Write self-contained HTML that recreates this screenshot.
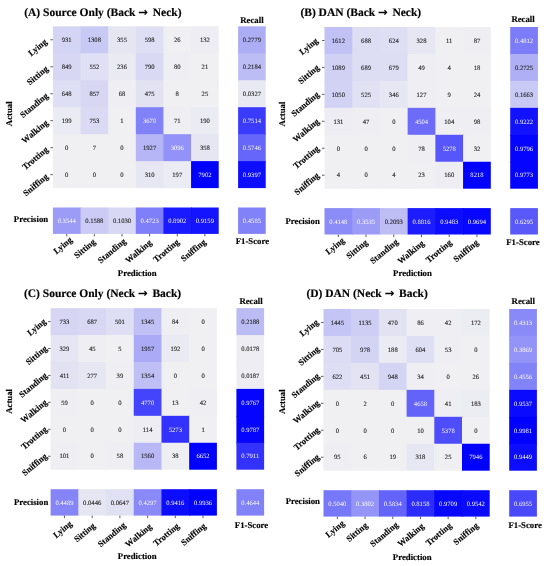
<!DOCTYPE html>
<html><head><meta charset="utf-8"><style>
html,body{margin:0;padding:0;background:#fff;}
svg{display:block;}

text{font-family:"Liberation Serif","Times New Roman",serif;text-rendering:geometricPrecision;}
.t{font-size:11.5px;font-weight:bold;fill:#000;stroke:#000;stroke-width:0.15px;}
.ar{font-family:"DejaVu Sans",sans-serif;}
.lb{font-size:8.75px;font-weight:bold;fill:#000;stroke:#000;stroke-width:0.15px;}
.n{font-size:6.6px;text-anchor:middle;dominant-baseline:central;stroke-width:0.12px;}
.yl{font-size:8.75px;font-weight:bold;stroke:#000;stroke-width:0.15px;text-anchor:end;dominant-baseline:central;fill:#000;}
.xl{font-size:8.75px;font-weight:bold;stroke:#000;stroke-width:0.15px;text-anchor:end;dominant-baseline:text-before-edge;fill:#000;}
.tk{stroke:#333;stroke-width:0.8;}
</style></head><body>
<svg width="550" height="566" viewBox="0 0 550 566">
<rect width="550" height="566" fill="#fff"/>
<text class="t" x="24.2" y="16.0">(A) Source Only (Back <tspan class="ar">→</tspan><tspan dx="1.86"> Neck)</tspan></text>
<rect x="52.90" y="26.30" width="28.63" height="27.97" fill="#d4d4f4"/>
<rect x="80.53" y="26.30" width="28.63" height="27.97" fill="#c9c9f5"/>
<rect x="108.17" y="26.30" width="28.63" height="27.97" fill="#e6e6f3"/>
<rect x="135.80" y="26.30" width="28.63" height="27.97" fill="#dedff4"/>
<rect x="163.43" y="26.30" width="28.63" height="27.97" fill="#f0f0f3"/>
<rect x="191.07" y="26.30" width="27.63" height="27.97" fill="#ededf3"/>
<rect x="52.90" y="53.27" width="28.63" height="27.97" fill="#d7d7f4"/>
<rect x="80.53" y="53.27" width="28.63" height="27.97" fill="#e0e0f4"/>
<rect x="108.17" y="53.27" width="28.63" height="27.97" fill="#eaeaf3"/>
<rect x="135.80" y="53.27" width="28.63" height="27.97" fill="#d9d9f4"/>
<rect x="163.43" y="53.27" width="28.63" height="27.97" fill="#efeff3"/>
<rect x="191.07" y="53.27" width="27.63" height="27.97" fill="#f0f0f3"/>
<rect x="52.90" y="80.23" width="28.63" height="27.97" fill="#dedef4"/>
<rect x="80.53" y="80.23" width="28.63" height="27.97" fill="#d7d7f4"/>
<rect x="108.17" y="80.23" width="28.63" height="27.97" fill="#efeff3"/>
<rect x="135.80" y="80.23" width="28.63" height="27.97" fill="#e2e2f3"/>
<rect x="163.43" y="80.23" width="28.63" height="27.97" fill="#f0f0f3"/>
<rect x="191.07" y="80.23" width="27.63" height="27.97" fill="#f0f0f3"/>
<rect x="52.90" y="107.20" width="28.63" height="27.97" fill="#ebebf3"/>
<rect x="80.53" y="107.20" width="28.63" height="27.97" fill="#dadaf4"/>
<rect x="108.17" y="107.20" width="28.63" height="27.97" fill="#f0f0f3"/>
<rect x="135.80" y="107.20" width="28.63" height="27.97" fill="#8181f8"/>
<rect x="163.43" y="107.20" width="28.63" height="27.97" fill="#efeff3"/>
<rect x="191.07" y="107.20" width="27.63" height="27.97" fill="#ebebf3"/>
<rect x="52.90" y="134.17" width="28.63" height="27.97" fill="#f0f0f3"/>
<rect x="80.53" y="134.17" width="28.63" height="27.97" fill="#f0f0f3"/>
<rect x="108.17" y="134.17" width="28.63" height="27.97" fill="#f0f0f3"/>
<rect x="135.80" y="134.17" width="28.63" height="27.97" fill="#b6b6f6"/>
<rect x="163.43" y="134.17" width="28.63" height="27.97" fill="#9292f8"/>
<rect x="191.07" y="134.17" width="27.63" height="27.97" fill="#e6e6f3"/>
<rect x="52.90" y="161.13" width="28.63" height="26.97" fill="#f0f0f3"/>
<rect x="80.53" y="161.13" width="28.63" height="26.97" fill="#f0f0f3"/>
<rect x="108.17" y="161.13" width="28.63" height="26.97" fill="#f0f0f3"/>
<rect x="135.80" y="161.13" width="28.63" height="26.97" fill="#e7e7f3"/>
<rect x="163.43" y="161.13" width="28.63" height="26.97" fill="#ebebf3"/>
<rect x="191.07" y="161.13" width="27.63" height="26.97" fill="#0000ff"/>
<text class="n" x="66.72" y="40.53" fill="#262626" stroke="#262626">931</text>
<text class="n" x="94.35" y="40.53" fill="#262626" stroke="#262626">1308</text>
<text class="n" x="121.98" y="40.53" fill="#262626" stroke="#262626">355</text>
<text class="n" x="149.62" y="40.53" fill="#262626" stroke="#262626">598</text>
<text class="n" x="177.25" y="40.53" fill="#262626" stroke="#262626">26</text>
<text class="n" x="204.88" y="40.53" fill="#262626" stroke="#262626">132</text>
<text class="n" x="66.72" y="67.50" fill="#262626" stroke="#262626">849</text>
<text class="n" x="94.35" y="67.50" fill="#262626" stroke="#262626">552</text>
<text class="n" x="121.98" y="67.50" fill="#262626" stroke="#262626">236</text>
<text class="n" x="149.62" y="67.50" fill="#262626" stroke="#262626">790</text>
<text class="n" x="177.25" y="67.50" fill="#262626" stroke="#262626">80</text>
<text class="n" x="204.88" y="67.50" fill="#262626" stroke="#262626">21</text>
<text class="n" x="66.72" y="94.47" fill="#262626" stroke="#262626">648</text>
<text class="n" x="94.35" y="94.47" fill="#262626" stroke="#262626">857</text>
<text class="n" x="121.98" y="94.47" fill="#262626" stroke="#262626">68</text>
<text class="n" x="149.62" y="94.47" fill="#262626" stroke="#262626">475</text>
<text class="n" x="177.25" y="94.47" fill="#262626" stroke="#262626">8</text>
<text class="n" x="204.88" y="94.47" fill="#262626" stroke="#262626">25</text>
<text class="n" x="66.72" y="121.43" fill="#262626" stroke="#262626">199</text>
<text class="n" x="94.35" y="121.43" fill="#262626" stroke="#262626">753</text>
<text class="n" x="121.98" y="121.43" fill="#262626" stroke="#262626">1</text>
<text class="n" x="149.62" y="121.43" fill="#ffffff" stroke="none">3670</text>
<text class="n" x="177.25" y="121.43" fill="#262626" stroke="#262626">71</text>
<text class="n" x="204.88" y="121.43" fill="#262626" stroke="#262626">190</text>
<text class="n" x="66.72" y="148.40" fill="#262626" stroke="#262626">0</text>
<text class="n" x="94.35" y="148.40" fill="#262626" stroke="#262626">7</text>
<text class="n" x="121.98" y="148.40" fill="#262626" stroke="#262626">0</text>
<text class="n" x="149.62" y="148.40" fill="#262626" stroke="#262626">1927</text>
<text class="n" x="177.25" y="148.40" fill="#ffffff" stroke="none">3096</text>
<text class="n" x="204.88" y="148.40" fill="#262626" stroke="#262626">358</text>
<text class="n" x="66.72" y="175.37" fill="#262626" stroke="#262626">0</text>
<text class="n" x="94.35" y="175.37" fill="#262626" stroke="#262626">0</text>
<text class="n" x="121.98" y="175.37" fill="#262626" stroke="#262626">0</text>
<text class="n" x="149.62" y="175.37" fill="#262626" stroke="#262626">310</text>
<text class="n" x="177.25" y="175.37" fill="#262626" stroke="#262626">197</text>
<text class="n" x="204.88" y="175.37" fill="#ffffff" stroke="none">7902</text>
<rect x="238.10" y="26.30" width="27.63" height="27.97" fill="#adadf6"/>
<rect x="238.10" y="53.27" width="27.63" height="27.97" fill="#bdbdf5"/>
<rect x="238.10" y="80.23" width="27.63" height="27.97" fill="#e9e9f3"/>
<rect x="238.10" y="107.20" width="27.63" height="27.97" fill="#3b3bfc"/>
<rect x="238.10" y="134.17" width="27.63" height="27.97" fill="#6666fa"/>
<rect x="238.10" y="161.13" width="27.63" height="26.97" fill="#0e0efe"/>
<text class="n" x="251.92" y="40.53" fill="#262626" stroke="#262626">0.2779</text>
<text class="n" x="251.92" y="67.50" fill="#262626" stroke="#262626">0.2184</text>
<text class="n" x="251.92" y="94.47" fill="#262626" stroke="#262626">0.0327</text>
<text class="n" x="251.92" y="121.43" fill="#ffffff" stroke="none">0.7514</text>
<text class="n" x="251.92" y="148.40" fill="#ffffff" stroke="none">0.5746</text>
<text class="n" x="251.92" y="175.37" fill="#ffffff" stroke="none">0.9397</text>
<rect x="52.90" y="207.50" width="28.63" height="26.40" fill="#9c9cf7"/>
<rect x="80.53" y="207.50" width="28.63" height="26.40" fill="#cbcbf5"/>
<rect x="108.17" y="207.50" width="28.63" height="26.40" fill="#d8d8f4"/>
<rect x="135.80" y="207.50" width="28.63" height="26.40" fill="#7f7ff9"/>
<rect x="163.43" y="207.50" width="28.63" height="26.40" fill="#1a1afe"/>
<rect x="191.07" y="207.50" width="27.63" height="26.40" fill="#1414fe"/>
<text class="n" x="66.72" y="221.45" fill="#ffffff" stroke="none">0.3544</text>
<text class="n" x="94.35" y="221.45" fill="#262626" stroke="#262626">0.1588</text>
<text class="n" x="121.98" y="221.45" fill="#262626" stroke="#262626">0.1030</text>
<text class="n" x="149.62" y="221.45" fill="#ffffff" stroke="none">0.4723</text>
<text class="n" x="177.25" y="221.45" fill="#ffffff" stroke="none">0.8902</text>
<text class="n" x="204.88" y="221.45" fill="#ffffff" stroke="none">0.9159</text>
<rect x="238.10" y="207.50" width="27.63" height="26.40" fill="#8282f8"/>
<text class="n" x="251.92" y="221.45" fill="#ffffff" stroke="none">0.4585</text>
<line x1="50.40" y1="39.78" x2="52.90" y2="39.78" class="tk"/>
<text class="yl" x="45.70" y="40.38" transform="rotate(-40 45.70 40.38)">Lying</text>
<line x1="50.40" y1="66.75" x2="52.90" y2="66.75" class="tk"/>
<text class="yl" x="46.90" y="67.35" transform="rotate(-40 46.90 67.35)">Sitting</text>
<line x1="50.40" y1="93.72" x2="52.90" y2="93.72" class="tk"/>
<text class="yl" x="46.90" y="94.32" transform="rotate(-40 46.90 94.32)">Standing</text>
<line x1="50.40" y1="120.68" x2="52.90" y2="120.68" class="tk"/>
<text class="yl" x="46.90" y="121.28" transform="rotate(-40 46.90 121.28)">Walking</text>
<line x1="50.40" y1="147.65" x2="52.90" y2="147.65" class="tk"/>
<text class="yl" x="46.90" y="148.25" transform="rotate(-40 46.90 148.25)">Trotting</text>
<line x1="50.40" y1="174.62" x2="52.90" y2="174.62" class="tk"/>
<text class="yl" x="46.90" y="175.22" transform="rotate(-40 46.90 175.22)">Sniffing</text>
<line x1="66.72" y1="233.90" x2="66.72" y2="236.40" class="tk"/>
<text class="xl" x="67.72" y="234.60" transform="rotate(-40 67.72 234.60)">Lying</text>
<line x1="94.35" y1="233.90" x2="94.35" y2="236.40" class="tk"/>
<text class="xl" x="90.95" y="236.60" transform="rotate(-40 90.95 236.60)">Sitting</text>
<line x1="121.98" y1="233.90" x2="121.98" y2="236.40" class="tk"/>
<text class="xl" x="121.38" y="236.00" transform="rotate(-40 121.38 236.00)">Standing</text>
<line x1="149.62" y1="233.90" x2="149.62" y2="236.40" class="tk"/>
<text class="xl" x="147.22" y="237.40" transform="rotate(-40 147.22 237.40)">Walking</text>
<line x1="177.25" y1="233.90" x2="177.25" y2="236.40" class="tk"/>
<text class="xl" x="174.75" y="236.80" transform="rotate(-40 174.75 236.80)">Trotting</text>
<line x1="204.88" y1="233.90" x2="204.88" y2="236.40" class="tk"/>
<text class="xl" x="201.38" y="236.80" transform="rotate(-40 201.38 236.80)">Sniffing</text>
<text class="lb" x="251.92" y="23.00" text-anchor="middle">Recall</text>
<text class="lb" x="48.20" y="222.00" text-anchor="end">Precision</text>
<text class="lb" x="252.42" y="244.30" text-anchor="middle">F1-Score</text>
<text class="lb" x="137.20" y="276.10" text-anchor="middle">Prediction</text>
<text class="lb" x="12.30" y="113.80" text-anchor="middle" transform="rotate(-90 12.30 113.80)">Actual</text>
<text class="t" x="300.4" y="16.4">(B) DAN (Back <tspan class="ar">→</tspan><tspan dx="1.86"> Neck)</tspan></text>
<rect x="324.50" y="27.00" width="28.72" height="27.95" fill="#c1c1f5"/>
<rect x="352.22" y="27.00" width="28.72" height="27.95" fill="#ddddf4"/>
<rect x="379.93" y="27.00" width="28.72" height="27.95" fill="#dedff4"/>
<rect x="407.65" y="27.00" width="28.72" height="27.95" fill="#e7e7f3"/>
<rect x="435.37" y="27.00" width="28.72" height="27.95" fill="#f0f0f3"/>
<rect x="463.08" y="27.00" width="27.72" height="27.95" fill="#efeff3"/>
<rect x="324.50" y="53.95" width="28.72" height="27.95" fill="#d1d1f4"/>
<rect x="352.22" y="53.95" width="28.72" height="27.95" fill="#ddddf4"/>
<rect x="379.93" y="53.95" width="28.72" height="27.95" fill="#ddddf4"/>
<rect x="407.65" y="53.95" width="28.72" height="27.95" fill="#efeff3"/>
<rect x="435.37" y="53.95" width="28.72" height="27.95" fill="#f0f0f3"/>
<rect x="463.08" y="53.95" width="27.72" height="27.95" fill="#f0f0f3"/>
<rect x="324.50" y="80.90" width="28.72" height="27.95" fill="#d2d2f4"/>
<rect x="352.22" y="80.90" width="28.72" height="27.95" fill="#e1e1f4"/>
<rect x="379.93" y="80.90" width="28.72" height="27.95" fill="#e7e7f3"/>
<rect x="407.65" y="80.90" width="28.72" height="27.95" fill="#eeeef3"/>
<rect x="435.37" y="80.90" width="28.72" height="27.95" fill="#f0f0f3"/>
<rect x="463.08" y="80.90" width="27.72" height="27.95" fill="#f0f0f3"/>
<rect x="324.50" y="107.85" width="28.72" height="27.95" fill="#ededf3"/>
<rect x="352.22" y="107.85" width="28.72" height="27.95" fill="#efeff3"/>
<rect x="379.93" y="107.85" width="28.72" height="27.95" fill="#f0f0f3"/>
<rect x="407.65" y="107.85" width="28.72" height="27.95" fill="#6c6cf9"/>
<rect x="435.37" y="107.85" width="28.72" height="27.95" fill="#eeeef3"/>
<rect x="463.08" y="107.85" width="27.72" height="27.95" fill="#eeeef3"/>
<rect x="324.50" y="134.80" width="28.72" height="27.95" fill="#f0f0f3"/>
<rect x="352.22" y="134.80" width="28.72" height="27.95" fill="#f0f0f3"/>
<rect x="379.93" y="134.80" width="28.72" height="27.95" fill="#f0f0f3"/>
<rect x="407.65" y="134.80" width="28.72" height="27.95" fill="#efeff3"/>
<rect x="435.37" y="134.80" width="28.72" height="27.95" fill="#5656fb"/>
<rect x="463.08" y="134.80" width="27.72" height="27.95" fill="#f0f0f3"/>
<rect x="324.50" y="161.75" width="28.72" height="26.95" fill="#f0f0f3"/>
<rect x="352.22" y="161.75" width="28.72" height="26.95" fill="#f0f0f3"/>
<rect x="379.93" y="161.75" width="28.72" height="26.95" fill="#f0f0f3"/>
<rect x="407.65" y="161.75" width="28.72" height="26.95" fill="#f0f0f3"/>
<rect x="435.37" y="161.75" width="28.72" height="26.95" fill="#ededf3"/>
<rect x="463.08" y="161.75" width="27.72" height="26.95" fill="#0000ff"/>
<text class="n" x="338.36" y="41.23" fill="#262626" stroke="#262626">1612</text>
<text class="n" x="366.07" y="41.23" fill="#262626" stroke="#262626">688</text>
<text class="n" x="393.79" y="41.23" fill="#262626" stroke="#262626">624</text>
<text class="n" x="421.51" y="41.23" fill="#262626" stroke="#262626">328</text>
<text class="n" x="449.23" y="41.23" fill="#262626" stroke="#262626">11</text>
<text class="n" x="476.94" y="41.23" fill="#262626" stroke="#262626">87</text>
<text class="n" x="338.36" y="68.17" fill="#262626" stroke="#262626">1089</text>
<text class="n" x="366.07" y="68.17" fill="#262626" stroke="#262626">689</text>
<text class="n" x="393.79" y="68.17" fill="#262626" stroke="#262626">679</text>
<text class="n" x="421.51" y="68.17" fill="#262626" stroke="#262626">49</text>
<text class="n" x="449.23" y="68.17" fill="#262626" stroke="#262626">4</text>
<text class="n" x="476.94" y="68.17" fill="#262626" stroke="#262626">18</text>
<text class="n" x="338.36" y="95.12" fill="#262626" stroke="#262626">1050</text>
<text class="n" x="366.07" y="95.12" fill="#262626" stroke="#262626">525</text>
<text class="n" x="393.79" y="95.12" fill="#262626" stroke="#262626">346</text>
<text class="n" x="421.51" y="95.12" fill="#262626" stroke="#262626">127</text>
<text class="n" x="449.23" y="95.12" fill="#262626" stroke="#262626">9</text>
<text class="n" x="476.94" y="95.12" fill="#262626" stroke="#262626">24</text>
<text class="n" x="338.36" y="122.08" fill="#262626" stroke="#262626">131</text>
<text class="n" x="366.07" y="122.08" fill="#262626" stroke="#262626">47</text>
<text class="n" x="393.79" y="122.08" fill="#262626" stroke="#262626">0</text>
<text class="n" x="421.51" y="122.08" fill="#ffffff" stroke="none">4504</text>
<text class="n" x="449.23" y="122.08" fill="#262626" stroke="#262626">104</text>
<text class="n" x="476.94" y="122.08" fill="#262626" stroke="#262626">98</text>
<text class="n" x="338.36" y="149.02" fill="#262626" stroke="#262626">0</text>
<text class="n" x="366.07" y="149.02" fill="#262626" stroke="#262626">0</text>
<text class="n" x="393.79" y="149.02" fill="#262626" stroke="#262626">0</text>
<text class="n" x="421.51" y="149.02" fill="#262626" stroke="#262626">78</text>
<text class="n" x="449.23" y="149.02" fill="#ffffff" stroke="none">5278</text>
<text class="n" x="476.94" y="149.02" fill="#262626" stroke="#262626">32</text>
<text class="n" x="338.36" y="175.97" fill="#262626" stroke="#262626">4</text>
<text class="n" x="366.07" y="175.97" fill="#262626" stroke="#262626">0</text>
<text class="n" x="393.79" y="175.97" fill="#262626" stroke="#262626">4</text>
<text class="n" x="421.51" y="175.97" fill="#262626" stroke="#262626">23</text>
<text class="n" x="449.23" y="175.97" fill="#262626" stroke="#262626">160</text>
<text class="n" x="476.94" y="175.97" fill="#ffffff" stroke="none">8218</text>
<rect x="510.20" y="27.00" width="27.72" height="27.95" fill="#7c7cf9"/>
<rect x="510.20" y="53.95" width="27.72" height="27.95" fill="#afaff6"/>
<rect x="510.20" y="80.90" width="27.72" height="27.95" fill="#c9c9f5"/>
<rect x="510.20" y="107.85" width="27.72" height="27.95" fill="#1212fe"/>
<rect x="510.20" y="134.80" width="27.72" height="27.95" fill="#0505ff"/>
<rect x="510.20" y="161.75" width="27.72" height="26.95" fill="#0505ff"/>
<text class="n" x="524.06" y="41.23" fill="#ffffff" stroke="none">0.4812</text>
<text class="n" x="524.06" y="68.17" fill="#262626" stroke="#262626">0.2725</text>
<text class="n" x="524.06" y="95.12" fill="#262626" stroke="#262626">0.1663</text>
<text class="n" x="524.06" y="122.08" fill="#ffffff" stroke="none">0.9222</text>
<text class="n" x="524.06" y="149.02" fill="#ffffff" stroke="none">0.9796</text>
<text class="n" x="524.06" y="175.97" fill="#ffffff" stroke="none">0.9773</text>
<rect x="324.50" y="208.10" width="28.72" height="26.40" fill="#8c8cf8"/>
<rect x="352.22" y="208.10" width="28.72" height="26.40" fill="#9c9cf7"/>
<rect x="379.93" y="208.10" width="28.72" height="26.40" fill="#bebef5"/>
<rect x="407.65" y="208.10" width="28.72" height="26.40" fill="#1c1cfe"/>
<rect x="435.37" y="208.10" width="28.72" height="26.40" fill="#0c0cfe"/>
<rect x="463.08" y="208.10" width="27.72" height="26.40" fill="#0707ff"/>
<text class="n" x="338.36" y="222.05" fill="#ffffff" stroke="none">0.4148</text>
<text class="n" x="366.07" y="222.05" fill="#ffffff" stroke="none">0.3535</text>
<text class="n" x="393.79" y="222.05" fill="#262626" stroke="#262626">0.2093</text>
<text class="n" x="421.51" y="222.05" fill="#ffffff" stroke="none">0.8816</text>
<text class="n" x="449.23" y="222.05" fill="#ffffff" stroke="none">0.9483</text>
<text class="n" x="476.94" y="222.05" fill="#ffffff" stroke="none">0.9694</text>
<rect x="510.20" y="208.10" width="27.72" height="26.40" fill="#5959fa"/>
<text class="n" x="524.06" y="222.05" fill="#ffffff" stroke="none">0.6295</text>
<line x1="322.00" y1="40.48" x2="324.50" y2="40.48" class="tk"/>
<text class="yl" x="316.80" y="39.28" transform="rotate(-40 316.80 39.28)">Lying</text>
<line x1="322.00" y1="67.42" x2="324.50" y2="67.42" class="tk"/>
<text class="yl" x="318.00" y="66.22" transform="rotate(-40 318.00 66.22)">Sitting</text>
<line x1="322.00" y1="94.38" x2="324.50" y2="94.38" class="tk"/>
<text class="yl" x="318.00" y="93.17" transform="rotate(-40 318.00 93.17)">Standing</text>
<line x1="322.00" y1="121.33" x2="324.50" y2="121.33" class="tk"/>
<text class="yl" x="318.00" y="120.12" transform="rotate(-40 318.00 120.12)">Walking</text>
<line x1="322.00" y1="148.27" x2="324.50" y2="148.27" class="tk"/>
<text class="yl" x="318.00" y="147.07" transform="rotate(-40 318.00 147.07)">Trotting</text>
<line x1="322.00" y1="175.22" x2="324.50" y2="175.22" class="tk"/>
<text class="yl" x="318.00" y="174.02" transform="rotate(-40 318.00 174.02)">Sniffing</text>
<line x1="338.36" y1="234.50" x2="338.36" y2="237.00" class="tk"/>
<text class="xl" x="339.86" y="235.20" transform="rotate(-40 339.86 235.20)">Lying</text>
<line x1="366.07" y1="234.50" x2="366.07" y2="237.00" class="tk"/>
<text class="xl" x="363.18" y="237.20" transform="rotate(-40 363.18 237.20)">Sitting</text>
<line x1="393.79" y1="234.50" x2="393.79" y2="237.00" class="tk"/>
<text class="xl" x="393.69" y="236.60" transform="rotate(-40 393.69 236.60)">Standing</text>
<line x1="421.51" y1="234.50" x2="421.51" y2="237.00" class="tk"/>
<text class="xl" x="419.61" y="238.00" transform="rotate(-40 419.61 238.00)">Walking</text>
<line x1="449.23" y1="234.50" x2="449.23" y2="237.00" class="tk"/>
<text class="xl" x="447.23" y="237.40" transform="rotate(-40 447.23 237.40)">Trotting</text>
<line x1="476.94" y1="234.50" x2="476.94" y2="237.00" class="tk"/>
<text class="xl" x="473.94" y="237.40" transform="rotate(-40 473.94 237.40)">Sniffing</text>
<text class="lb" x="523.06" y="22.40" text-anchor="middle">Recall</text>
<text class="lb" x="319.80" y="223.80" text-anchor="end">Precision</text>
<text class="lb" x="522.96" y="244.90" text-anchor="middle">F1-Score</text>
<text class="lb" x="412.45" y="276.30" text-anchor="middle">Prediction</text>
<text class="lb" x="285.20" y="114.00" text-anchor="middle" transform="rotate(-90 285.20 114.00)">Actual</text>
<text class="t" x="23.9" y="296.8">(C) Source Only (Neck <tspan class="ar">→</tspan><tspan dx="1.86"> Back)</tspan></text>
<rect x="50.60" y="308.10" width="28.72" height="27.93" fill="#d6d6f4"/>
<rect x="78.32" y="308.10" width="28.72" height="27.93" fill="#d8d8f4"/>
<rect x="106.03" y="308.10" width="28.72" height="27.93" fill="#dedff4"/>
<rect x="133.75" y="308.10" width="28.72" height="27.93" fill="#c0c0f5"/>
<rect x="161.47" y="308.10" width="28.72" height="27.93" fill="#eeeef3"/>
<rect x="189.18" y="308.10" width="27.72" height="27.93" fill="#f0f0f3"/>
<rect x="50.60" y="335.03" width="28.72" height="27.93" fill="#e5e5f3"/>
<rect x="78.32" y="335.03" width="28.72" height="27.93" fill="#efeff3"/>
<rect x="106.03" y="335.03" width="28.72" height="27.93" fill="#f0f0f3"/>
<rect x="133.75" y="335.03" width="28.72" height="27.93" fill="#aaaaf6"/>
<rect x="161.47" y="335.03" width="28.72" height="27.93" fill="#eaeaf3"/>
<rect x="189.18" y="335.03" width="27.72" height="27.93" fill="#f0f0f3"/>
<rect x="50.60" y="361.97" width="28.72" height="27.93" fill="#e2e2f3"/>
<rect x="78.32" y="361.97" width="28.72" height="27.93" fill="#e7e7f3"/>
<rect x="106.03" y="361.97" width="28.72" height="27.93" fill="#efeff3"/>
<rect x="133.75" y="361.97" width="28.72" height="27.93" fill="#bfbff5"/>
<rect x="161.47" y="361.97" width="28.72" height="27.93" fill="#f0f0f3"/>
<rect x="189.18" y="361.97" width="27.72" height="27.93" fill="#f0f0f3"/>
<rect x="50.60" y="388.90" width="28.72" height="27.93" fill="#efeff3"/>
<rect x="78.32" y="388.90" width="28.72" height="27.93" fill="#f0f0f3"/>
<rect x="106.03" y="388.90" width="28.72" height="27.93" fill="#f0f0f3"/>
<rect x="133.75" y="388.90" width="28.72" height="27.93" fill="#4444fc"/>
<rect x="161.47" y="388.90" width="28.72" height="27.93" fill="#f0f0f3"/>
<rect x="189.18" y="388.90" width="27.72" height="27.93" fill="#efeff3"/>
<rect x="50.60" y="415.83" width="28.72" height="27.93" fill="#f0f0f3"/>
<rect x="78.32" y="415.83" width="28.72" height="27.93" fill="#f0f0f3"/>
<rect x="106.03" y="415.83" width="28.72" height="27.93" fill="#f0f0f3"/>
<rect x="133.75" y="415.83" width="28.72" height="27.93" fill="#ededf3"/>
<rect x="161.47" y="415.83" width="28.72" height="27.93" fill="#3232fc"/>
<rect x="189.18" y="415.83" width="27.72" height="27.93" fill="#f0f0f3"/>
<rect x="50.60" y="442.77" width="28.72" height="26.93" fill="#eeeef3"/>
<rect x="78.32" y="442.77" width="28.72" height="26.93" fill="#f0f0f3"/>
<rect x="106.03" y="442.77" width="28.72" height="26.93" fill="#efeff3"/>
<rect x="133.75" y="442.77" width="28.72" height="26.93" fill="#b8b8f6"/>
<rect x="161.47" y="442.77" width="28.72" height="26.93" fill="#efeff3"/>
<rect x="189.18" y="442.77" width="27.72" height="26.93" fill="#0000ff"/>
<text class="n" x="64.46" y="322.32" fill="#262626" stroke="#262626">733</text>
<text class="n" x="92.18" y="322.32" fill="#262626" stroke="#262626">687</text>
<text class="n" x="119.89" y="322.32" fill="#262626" stroke="#262626">501</text>
<text class="n" x="147.61" y="322.32" fill="#262626" stroke="#262626">1345</text>
<text class="n" x="175.33" y="322.32" fill="#262626" stroke="#262626">84</text>
<text class="n" x="203.04" y="322.32" fill="#262626" stroke="#262626">0</text>
<text class="n" x="64.46" y="349.25" fill="#262626" stroke="#262626">329</text>
<text class="n" x="92.18" y="349.25" fill="#262626" stroke="#262626">45</text>
<text class="n" x="119.89" y="349.25" fill="#262626" stroke="#262626">5</text>
<text class="n" x="147.61" y="349.25" fill="#262626" stroke="#262626">1957</text>
<text class="n" x="175.33" y="349.25" fill="#262626" stroke="#262626">192</text>
<text class="n" x="203.04" y="349.25" fill="#262626" stroke="#262626">0</text>
<text class="n" x="64.46" y="376.18" fill="#262626" stroke="#262626">411</text>
<text class="n" x="92.18" y="376.18" fill="#262626" stroke="#262626">277</text>
<text class="n" x="119.89" y="376.18" fill="#262626" stroke="#262626">39</text>
<text class="n" x="147.61" y="376.18" fill="#262626" stroke="#262626">1354</text>
<text class="n" x="175.33" y="376.18" fill="#262626" stroke="#262626">0</text>
<text class="n" x="203.04" y="376.18" fill="#262626" stroke="#262626">0</text>
<text class="n" x="64.46" y="403.12" fill="#262626" stroke="#262626">59</text>
<text class="n" x="92.18" y="403.12" fill="#262626" stroke="#262626">0</text>
<text class="n" x="119.89" y="403.12" fill="#262626" stroke="#262626">0</text>
<text class="n" x="147.61" y="403.12" fill="#ffffff" stroke="none">4770</text>
<text class="n" x="175.33" y="403.12" fill="#262626" stroke="#262626">13</text>
<text class="n" x="203.04" y="403.12" fill="#262626" stroke="#262626">42</text>
<text class="n" x="64.46" y="430.05" fill="#262626" stroke="#262626">0</text>
<text class="n" x="92.18" y="430.05" fill="#262626" stroke="#262626">0</text>
<text class="n" x="119.89" y="430.05" fill="#262626" stroke="#262626">0</text>
<text class="n" x="147.61" y="430.05" fill="#262626" stroke="#262626">114</text>
<text class="n" x="175.33" y="430.05" fill="#ffffff" stroke="none">5273</text>
<text class="n" x="203.04" y="430.05" fill="#262626" stroke="#262626">1</text>
<text class="n" x="64.46" y="456.98" fill="#262626" stroke="#262626">101</text>
<text class="n" x="92.18" y="456.98" fill="#262626" stroke="#262626">0</text>
<text class="n" x="119.89" y="456.98" fill="#262626" stroke="#262626">58</text>
<text class="n" x="147.61" y="456.98" fill="#262626" stroke="#262626">1560</text>
<text class="n" x="175.33" y="456.98" fill="#262626" stroke="#262626">38</text>
<text class="n" x="203.04" y="456.98" fill="#ffffff" stroke="none">6652</text>
<rect x="236.40" y="308.10" width="27.72" height="27.93" fill="#bcbcf5"/>
<rect x="236.40" y="335.03" width="27.72" height="27.93" fill="#ededf3"/>
<rect x="236.40" y="361.97" width="27.72" height="27.93" fill="#ededf3"/>
<rect x="236.40" y="388.90" width="27.72" height="27.93" fill="#0505ff"/>
<rect x="236.40" y="415.83" width="27.72" height="27.93" fill="#0505ff"/>
<rect x="236.40" y="442.77" width="27.72" height="26.93" fill="#3232fc"/>
<text class="n" x="250.26" y="322.32" fill="#262626" stroke="#262626">0.2188</text>
<text class="n" x="250.26" y="349.25" fill="#262626" stroke="#262626">0.0178</text>
<text class="n" x="250.26" y="376.18" fill="#262626" stroke="#262626">0.0187</text>
<text class="n" x="250.26" y="403.12" fill="#ffffff" stroke="none">0.9767</text>
<text class="n" x="250.26" y="430.05" fill="#ffffff" stroke="none">0.9787</text>
<text class="n" x="250.26" y="456.98" fill="#ffffff" stroke="none">0.7911</text>
<rect x="50.60" y="489.20" width="28.72" height="26.40" fill="#8585f8"/>
<rect x="78.32" y="489.20" width="28.72" height="26.40" fill="#e6e6f3"/>
<rect x="106.03" y="489.20" width="28.72" height="26.40" fill="#e1e1f4"/>
<rect x="133.75" y="489.20" width="28.72" height="26.40" fill="#8989f8"/>
<rect x="161.47" y="489.20" width="28.72" height="26.40" fill="#0d0dfe"/>
<rect x="189.18" y="489.20" width="27.72" height="26.40" fill="#0101ff"/>
<text class="n" x="64.46" y="503.15" fill="#ffffff" stroke="none">0.4489</text>
<text class="n" x="92.18" y="503.15" fill="#262626" stroke="#262626">0.0446</text>
<text class="n" x="119.89" y="503.15" fill="#262626" stroke="#262626">0.0647</text>
<text class="n" x="147.61" y="503.15" fill="#ffffff" stroke="none">0.4297</text>
<text class="n" x="175.33" y="503.15" fill="#ffffff" stroke="none">0.9416</text>
<text class="n" x="203.04" y="503.15" fill="#ffffff" stroke="none">0.9936</text>
<rect x="236.40" y="489.20" width="27.72" height="26.40" fill="#8181f8"/>
<text class="n" x="250.26" y="503.15" fill="#ffffff" stroke="none">0.4644</text>
<line x1="48.10" y1="321.57" x2="50.60" y2="321.57" class="tk"/>
<text class="yl" x="44.70" y="320.17" transform="rotate(-40 44.70 320.17)">Lying</text>
<line x1="48.10" y1="348.50" x2="50.60" y2="348.50" class="tk"/>
<text class="yl" x="45.90" y="347.10" transform="rotate(-40 45.90 347.10)">Sitting</text>
<line x1="48.10" y1="375.43" x2="50.60" y2="375.43" class="tk"/>
<text class="yl" x="45.90" y="374.03" transform="rotate(-40 45.90 374.03)">Standing</text>
<line x1="48.10" y1="402.37" x2="50.60" y2="402.37" class="tk"/>
<text class="yl" x="45.90" y="400.97" transform="rotate(-40 45.90 400.97)">Walking</text>
<line x1="48.10" y1="429.30" x2="50.60" y2="429.30" class="tk"/>
<text class="yl" x="45.90" y="427.90" transform="rotate(-40 45.90 427.90)">Trotting</text>
<line x1="48.10" y1="456.23" x2="50.60" y2="456.23" class="tk"/>
<text class="yl" x="45.90" y="454.83" transform="rotate(-40 45.90 454.83)">Sniffing</text>
<line x1="64.46" y1="515.60" x2="64.46" y2="518.10" class="tk"/>
<text class="xl" x="67.46" y="518.50" transform="rotate(-40 67.46 518.50)">Lying</text>
<line x1="92.18" y1="515.60" x2="92.18" y2="518.10" class="tk"/>
<text class="xl" x="90.78" y="520.50" transform="rotate(-40 90.78 520.50)">Sitting</text>
<line x1="119.89" y1="515.60" x2="119.89" y2="518.10" class="tk"/>
<text class="xl" x="121.29" y="519.90" transform="rotate(-40 121.29 519.90)">Standing</text>
<line x1="147.61" y1="515.60" x2="147.61" y2="518.10" class="tk"/>
<text class="xl" x="147.21" y="521.30" transform="rotate(-40 147.21 521.30)">Walking</text>
<line x1="175.33" y1="515.60" x2="175.33" y2="518.10" class="tk"/>
<text class="xl" x="174.83" y="520.70" transform="rotate(-40 174.83 520.70)">Trotting</text>
<line x1="203.04" y1="515.60" x2="203.04" y2="518.10" class="tk"/>
<text class="xl" x="201.54" y="520.70" transform="rotate(-40 201.54 520.70)">Sniffing</text>
<text class="lb" x="251.06" y="303.60" text-anchor="middle">Recall</text>
<text class="lb" x="48.30" y="505.10" text-anchor="end">Precision</text>
<text class="lb" x="251.56" y="527.50" text-anchor="middle">F1-Score</text>
<text class="lb" x="137.15" y="559.00" text-anchor="middle">Prediction</text>
<text class="lb" x="11.70" y="401.40" text-anchor="middle" transform="rotate(-90 11.70 401.40)">Actual</text>
<text class="t" x="306.4" y="297.2">(D) DAN (Neck <tspan class="ar">→</tspan><tspan dx="1.86"> Back)</tspan></text>
<rect x="323.50" y="309.00" width="28.70" height="27.95" fill="#c5c5f5"/>
<rect x="351.20" y="309.00" width="28.70" height="27.95" fill="#cecef4"/>
<rect x="378.90" y="309.00" width="28.70" height="27.95" fill="#e2e2f3"/>
<rect x="406.60" y="309.00" width="28.70" height="27.95" fill="#efeff3"/>
<rect x="434.30" y="309.00" width="28.70" height="27.95" fill="#efeff3"/>
<rect x="462.00" y="309.00" width="27.70" height="27.95" fill="#ececf3"/>
<rect x="323.50" y="335.95" width="28.70" height="27.95" fill="#dcdcf4"/>
<rect x="351.20" y="335.95" width="28.70" height="27.95" fill="#d3d3f4"/>
<rect x="378.90" y="335.95" width="28.70" height="27.95" fill="#ebebf3"/>
<rect x="406.60" y="335.95" width="28.70" height="27.95" fill="#dedff4"/>
<rect x="434.30" y="335.95" width="28.70" height="27.95" fill="#efeff3"/>
<rect x="462.00" y="335.95" width="27.70" height="27.95" fill="#f0f0f3"/>
<rect x="323.50" y="362.90" width="28.70" height="27.95" fill="#dedef4"/>
<rect x="351.20" y="362.90" width="28.70" height="27.95" fill="#e3e3f3"/>
<rect x="378.90" y="362.90" width="28.70" height="27.95" fill="#d4d4f4"/>
<rect x="406.60" y="362.90" width="28.70" height="27.95" fill="#efeff3"/>
<rect x="434.30" y="362.90" width="28.70" height="27.95" fill="#f0f0f3"/>
<rect x="462.00" y="362.90" width="27.70" height="27.95" fill="#f0f0f3"/>
<rect x="323.50" y="389.85" width="28.70" height="27.95" fill="#f0f0f3"/>
<rect x="351.20" y="389.85" width="28.70" height="27.95" fill="#f0f0f3"/>
<rect x="378.90" y="389.85" width="28.70" height="27.95" fill="#f0f0f3"/>
<rect x="406.60" y="389.85" width="28.70" height="27.95" fill="#6363fa"/>
<rect x="434.30" y="389.85" width="28.70" height="27.95" fill="#efeff3"/>
<rect x="462.00" y="389.85" width="27.70" height="27.95" fill="#ececf3"/>
<rect x="323.50" y="416.80" width="28.70" height="27.95" fill="#f0f0f3"/>
<rect x="351.20" y="416.80" width="28.70" height="27.95" fill="#f0f0f3"/>
<rect x="378.90" y="416.80" width="28.70" height="27.95" fill="#f0f0f3"/>
<rect x="406.60" y="416.80" width="28.70" height="27.95" fill="#f0f0f3"/>
<rect x="434.30" y="416.80" width="28.70" height="27.95" fill="#4d4dfb"/>
<rect x="462.00" y="416.80" width="27.70" height="27.95" fill="#f0f0f3"/>
<rect x="323.50" y="443.75" width="28.70" height="26.95" fill="#eeeef3"/>
<rect x="351.20" y="443.75" width="28.70" height="26.95" fill="#f0f0f3"/>
<rect x="378.90" y="443.75" width="28.70" height="26.95" fill="#f0f0f3"/>
<rect x="406.60" y="443.75" width="28.70" height="26.95" fill="#e7e7f3"/>
<rect x="434.30" y="443.75" width="28.70" height="26.95" fill="#f0f0f3"/>
<rect x="462.00" y="443.75" width="27.70" height="26.95" fill="#0000ff"/>
<text class="n" x="337.35" y="323.23" fill="#262626" stroke="#262626">1445</text>
<text class="n" x="365.05" y="323.23" fill="#262626" stroke="#262626">1135</text>
<text class="n" x="392.75" y="323.23" fill="#262626" stroke="#262626">470</text>
<text class="n" x="420.45" y="323.23" fill="#262626" stroke="#262626">86</text>
<text class="n" x="448.15" y="323.23" fill="#262626" stroke="#262626">42</text>
<text class="n" x="475.85" y="323.23" fill="#262626" stroke="#262626">172</text>
<text class="n" x="337.35" y="350.18" fill="#262626" stroke="#262626">705</text>
<text class="n" x="365.05" y="350.18" fill="#262626" stroke="#262626">978</text>
<text class="n" x="392.75" y="350.18" fill="#262626" stroke="#262626">188</text>
<text class="n" x="420.45" y="350.18" fill="#262626" stroke="#262626">604</text>
<text class="n" x="448.15" y="350.18" fill="#262626" stroke="#262626">53</text>
<text class="n" x="475.85" y="350.18" fill="#262626" stroke="#262626">0</text>
<text class="n" x="337.35" y="377.12" fill="#262626" stroke="#262626">622</text>
<text class="n" x="365.05" y="377.12" fill="#262626" stroke="#262626">451</text>
<text class="n" x="392.75" y="377.12" fill="#262626" stroke="#262626">948</text>
<text class="n" x="420.45" y="377.12" fill="#262626" stroke="#262626">34</text>
<text class="n" x="448.15" y="377.12" fill="#262626" stroke="#262626">0</text>
<text class="n" x="475.85" y="377.12" fill="#262626" stroke="#262626">26</text>
<text class="n" x="337.35" y="404.07" fill="#262626" stroke="#262626">0</text>
<text class="n" x="365.05" y="404.07" fill="#262626" stroke="#262626">2</text>
<text class="n" x="392.75" y="404.07" fill="#262626" stroke="#262626">0</text>
<text class="n" x="420.45" y="404.07" fill="#ffffff" stroke="none">4658</text>
<text class="n" x="448.15" y="404.07" fill="#262626" stroke="#262626">41</text>
<text class="n" x="475.85" y="404.07" fill="#262626" stroke="#262626">183</text>
<text class="n" x="337.35" y="431.02" fill="#262626" stroke="#262626">0</text>
<text class="n" x="365.05" y="431.02" fill="#262626" stroke="#262626">0</text>
<text class="n" x="392.75" y="431.02" fill="#262626" stroke="#262626">0</text>
<text class="n" x="420.45" y="431.02" fill="#262626" stroke="#262626">10</text>
<text class="n" x="448.15" y="431.02" fill="#ffffff" stroke="none">5378</text>
<text class="n" x="475.85" y="431.02" fill="#262626" stroke="#262626">0</text>
<text class="n" x="337.35" y="457.98" fill="#262626" stroke="#262626">95</text>
<text class="n" x="365.05" y="457.98" fill="#262626" stroke="#262626">6</text>
<text class="n" x="392.75" y="457.98" fill="#262626" stroke="#262626">19</text>
<text class="n" x="420.45" y="457.98" fill="#262626" stroke="#262626">318</text>
<text class="n" x="448.15" y="457.98" fill="#262626" stroke="#262626">25</text>
<text class="n" x="475.85" y="457.98" fill="#ffffff" stroke="none">7946</text>
<rect x="509.20" y="309.00" width="27.70" height="27.95" fill="#8989f8"/>
<rect x="509.20" y="335.95" width="27.70" height="27.95" fill="#9393f8"/>
<rect x="509.20" y="362.90" width="27.70" height="27.95" fill="#8383f8"/>
<rect x="509.20" y="389.85" width="27.70" height="27.95" fill="#0a0afe"/>
<rect x="509.20" y="416.80" width="27.70" height="27.95" fill="#0000ff"/>
<rect x="509.20" y="443.75" width="27.70" height="26.95" fill="#0d0dfe"/>
<text class="n" x="523.05" y="323.23" fill="#ffffff" stroke="none">0.4313</text>
<text class="n" x="523.05" y="350.18" fill="#ffffff" stroke="none">0.3869</text>
<text class="n" x="523.05" y="377.12" fill="#ffffff" stroke="none">0.4556</text>
<text class="n" x="523.05" y="404.07" fill="#ffffff" stroke="none">0.9537</text>
<text class="n" x="523.05" y="431.02" fill="#ffffff" stroke="none">0.9981</text>
<text class="n" x="523.05" y="457.98" fill="#ffffff" stroke="none">0.9449</text>
<rect x="323.50" y="490.20" width="28.70" height="26.40" fill="#7777f9"/>
<rect x="351.20" y="490.20" width="28.70" height="26.40" fill="#9595f7"/>
<rect x="378.90" y="490.20" width="28.70" height="26.40" fill="#6464fa"/>
<rect x="406.60" y="490.20" width="28.70" height="26.40" fill="#2c2cfd"/>
<rect x="434.30" y="490.20" width="28.70" height="26.40" fill="#0707ff"/>
<rect x="462.00" y="490.20" width="27.70" height="26.40" fill="#0a0afe"/>
<text class="n" x="337.35" y="504.15" fill="#ffffff" stroke="none">0.5040</text>
<text class="n" x="365.05" y="504.15" fill="#ffffff" stroke="none">0.3802</text>
<text class="n" x="392.75" y="504.15" fill="#ffffff" stroke="none">0.5834</text>
<text class="n" x="420.45" y="504.15" fill="#ffffff" stroke="none">0.8158</text>
<text class="n" x="448.15" y="504.15" fill="#ffffff" stroke="none">0.9709</text>
<text class="n" x="475.85" y="504.15" fill="#ffffff" stroke="none">0.9542</text>
<rect x="509.20" y="490.20" width="27.70" height="26.40" fill="#4949fb"/>
<text class="n" x="523.05" y="504.15" fill="#ffffff" stroke="none">0.6955</text>
<line x1="321.00" y1="322.48" x2="323.50" y2="322.48" class="tk"/>
<text class="yl" x="317.10" y="320.78" transform="rotate(-40 317.10 320.78)">Lying</text>
<line x1="321.00" y1="349.43" x2="323.50" y2="349.43" class="tk"/>
<text class="yl" x="318.30" y="347.73" transform="rotate(-40 318.30 347.73)">Sitting</text>
<line x1="321.00" y1="376.38" x2="323.50" y2="376.38" class="tk"/>
<text class="yl" x="318.30" y="374.68" transform="rotate(-40 318.30 374.68)">Standing</text>
<line x1="321.00" y1="403.32" x2="323.50" y2="403.32" class="tk"/>
<text class="yl" x="318.30" y="401.62" transform="rotate(-40 318.30 401.62)">Walking</text>
<line x1="321.00" y1="430.27" x2="323.50" y2="430.27" class="tk"/>
<text class="yl" x="318.30" y="428.57" transform="rotate(-40 318.30 428.57)">Trotting</text>
<line x1="321.00" y1="457.23" x2="323.50" y2="457.23" class="tk"/>
<text class="yl" x="318.30" y="455.53" transform="rotate(-40 318.30 455.53)">Sniffing</text>
<line x1="337.35" y1="516.60" x2="337.35" y2="519.10" class="tk"/>
<text class="xl" x="339.85" y="518.10" transform="rotate(-40 339.85 518.10)">Lying</text>
<line x1="365.05" y1="516.60" x2="365.05" y2="519.10" class="tk"/>
<text class="xl" x="363.15" y="520.10" transform="rotate(-40 363.15 520.10)">Sitting</text>
<line x1="392.75" y1="516.60" x2="392.75" y2="519.10" class="tk"/>
<text class="xl" x="393.65" y="519.50" transform="rotate(-40 393.65 519.50)">Standing</text>
<line x1="420.45" y1="516.60" x2="420.45" y2="519.10" class="tk"/>
<text class="xl" x="419.55" y="520.90" transform="rotate(-40 419.55 520.90)">Walking</text>
<line x1="448.15" y1="516.60" x2="448.15" y2="519.10" class="tk"/>
<text class="xl" x="447.15" y="520.30" transform="rotate(-40 447.15 520.30)">Trotting</text>
<line x1="475.85" y1="516.60" x2="475.85" y2="519.10" class="tk"/>
<text class="xl" x="473.85" y="520.30" transform="rotate(-40 473.85 520.30)">Sniffing</text>
<text class="lb" x="523.25" y="303.70" text-anchor="middle">Recall</text>
<text class="lb" x="320.00" y="504.20" text-anchor="end">Precision</text>
<text class="lb" x="525.15" y="527.70" text-anchor="middle">F1-Score</text>
<text class="lb" x="412.20" y="559.60" text-anchor="middle">Prediction</text>
<text class="lb" x="284.80" y="401.70" text-anchor="middle" transform="rotate(-90 284.80 401.70)">Actual</text>
</svg>
</body></html>
